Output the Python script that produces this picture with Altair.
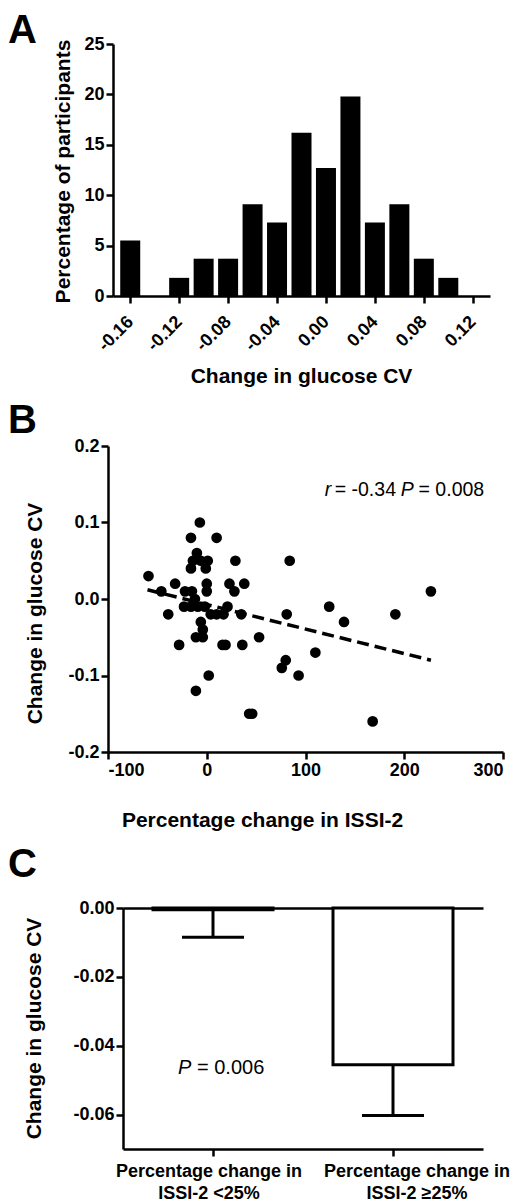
import pandas as pd
import altair as alt

FONT = "Arial"

# A: distribution of change in glucose CV (bin centres, % of participants)
cv_bins = [-0.16, -0.14, -0.12, -0.10, -0.08, -0.06, -0.04, -0.02, 0.00, 0.02, 0.04, 0.06, 0.08, 0.10]
pct_participants = [5.5, 0, 1.8, 3.7, 3.7, 9.1, 7.3, 16.2, 12.7, 19.8, 7.3, 9.1, 3.7, 1.8]

# B: percentage change in ISSI-2 vs change in glucose CV
issi_change = [-59, -46, -39, -32, -28, -22, -15, -23, -16, -9, -2, -16, -7, 10, -10, -14,
               -16, -6, -1, 1, 29, 0, 0, 23, 28, 38, 21, 4, 10, 17, 35, -6, -4, -11, -4,
               19, 16, 36, 53, 2, -11, 43, 46, 84, 81, 80, 76, 93, 110, 124, 139, 168,
               191, 227, -12]
cv_change = [0.03, 0.01, -0.02, 0.02, -0.06, 0.01, 0.01, -0.01, -0.01, -0.01, -0.01, 0.08, 0.10, 0.08, 0.06, 0.05,
             0.04, 0.05, 0.04, 0.05, 0.05, 0.02, 0.01, 0.02, 0.01, 0.02, -0.01, -0.02, -0.02, -0.02, -0.02, -0.03, -0.04, -0.05, -0.05,
             -0.06, -0.06, -0.06, -0.05, -0.10, -0.12, -0.15, -0.15, 0.05, -0.02, -0.08, -0.09, -0.10, -0.07, -0.01, -0.03, -0.16,
             -0.02, 0.01, 0.00]
fit_x = [-60, 227]
fit_y = [0.012, -0.080]

# C: mean change in glucose CV by ISSI-2 group, with lower SEM
groups = ["Percentage change in|ISSI-2 <25%", "Percentage change in|ISSI-2 \u226525%"]
group_mean = [-0.0005, -0.0455]
group_low = [-0.0085, -0.0603]


def ax(**kw):
    # GraphPad-like axis: thick black lines, bold labels, no grid
    base = dict(domainColor="black", domainWidth=2.5, tickColor="black", tickWidth=2.5, tickSize=7,
                labelColor="black", labelFont=FONT, labelFontWeight="bold", labelFontSize=18,
                labelPadding=2, labelLimit=400, titleColor="black", titleFont=FONT,
                titleFontWeight="bold", titleFontSize=21, grid=False)
    base.update(kw)
    return alt.Axis(**base)


def letter(txt, dy):
    return alt.TitleParams(txt, anchor="start", frame="group", dx=-100, dy=dy, offset=0, fontSize=40,
                           fontWeight="bold", font=FONT, color="black", baseline="bottom")


minus_fix = "replace(format(datum.value, '{}'), '\u2212', '-')"

# ---- panel A  (plot shifted 5px right of the shared left edge)
hist = pd.DataFrame({"bin": cv_bins, "pct": pct_participants})
panel_a = alt.Chart(hist).mark_bar(color="black", size=20).encode(
    x=alt.X("bin:Q", scale=alt.Scale(domain=[-0.17, 0.13], nice=False, zero=False, range=[5, 382]),
            axis=ax(values=[-0.16, -0.12, -0.08, -0.04, 0.0, 0.04, 0.08, 0.12],
                    labelExpr=minus_fix.format(".2f"), labelAngle=-45, labelAlign="right",
                    labelBaseline="middle", labelPadding=16, labelFontSize=18,
                    title="Change in glucose CV", titleX=193, titleY=69)),
    y=alt.Y("pct:Q", scale=alt.Scale(domain=[0, 25], nice=False),
            axis=ax(values=[0, 5, 10, 15, 20, 25], offset=-5, title="Percentage of participants",
                    titleX=-40, titleY=127))
).properties(width=382, height=252, title=letter("A", 56))

# ---- panel B
pts = pd.DataFrame({"issi": issi_change, "cv": cv_change})
fit = pd.DataFrame({"issi": fit_x, "cv": fit_y})
xb = alt.Scale(domain=[-100, 300], nice=False)
yb = alt.Scale(domain=[-0.2, 0.2], nice=False)

scatter = alt.Chart(pts).mark_circle(color="black", opacity=1, size=115).encode(
    x=alt.X("issi:Q", scale=xb,
            axis=ax(values=[-100, 0, 100, 200, 300], labelExpr=minus_fix.format("d"),
                    title="Percentage change in ISSI-2", titleX=154, titleY=57)),
    y=alt.Y("cv:Q", scale=yb,
            axis=ax(values=[-0.2, -0.1, 0.0, 0.1, 0.2], labelExpr=minus_fix.format(".1f"),
                    title="Change in glucose CV", titleX=-63, titleY=167))
)
trend = alt.Chart(fit).mark_line(color="black", strokeWidth=3.5, strokeDash=[12, 6]).encode(
    x=alt.X("issi:Q", scale=xb), y=alt.Y("cv:Q", scale=yb)
)

# "r = -0.34 P = 0.008", italic letters split out
note_b = pd.DataFrame({
    "x": [119.5, 129.6, 196.5, 214.5],
    "y": [0.143, 0.143, 0.143, 0.143],
    "txt": ["r", "= -0.34", "P", "= 0.008"],
    "style": ["italic", "normal", "italic", "normal"],
})
note_b_it = alt.Chart(note_b).transform_filter("datum.style == 'italic'").mark_text(
    font=FONT, fontSize=19.5, fontStyle="italic", align="left", baseline="middle", color="black"
).encode(x=alt.X("x:Q", scale=xb), y=alt.Y("y:Q", scale=yb), text="txt:N")
note_b_rm = alt.Chart(note_b).transform_filter("datum.style == 'normal'").mark_text(
    font=FONT, fontSize=19.5, align="left", baseline="middle", color="black"
).encode(x=alt.X("x:Q", scale=xb), y=alt.Y("y:Q", scale=yb), text="txt:N")

panel_b = alt.layer(scatter, trend, note_b_it, note_b_rm).properties(
    width=395, height=306, title=letter("B", 44))

# ---- panel C  (plot shifted 15px right of the shared left edge)
bars = pd.DataFrame({"grp": groups, "mean": group_mean, "low": group_low})
xsc = alt.Scale(paddingInner=0, paddingOuter=0, range=[15, 375])
yc = alt.Scale(domain=[-0.07, 0], nice=False)

bar_c = alt.Chart(bars).mark_bar(fill="white", stroke="black", strokeWidth=3, size=120).encode(
    x=alt.X("grp:N", sort=groups, scale=xsc,
            axis=ax(labelExpr="split(datum.label, '|')", labelAngle=0, labelAlign="center",
                    labelBaseline="top", labelLineHeight=22, labelPadding=6, title=None,
                    labelOffset={"condition": {"test": "indexof(datum.value, '\u2265') >= 0", "value": 24},
                                 "value": -4})),
    y=alt.Y("mean:Q", scale=yc,
            axis=ax(values=[0, -0.02, -0.04, -0.06], labelExpr=minus_fix.format(".2f"), offset=-15,
                    title="Change in glucose CV", titleX=-79, titleY=120))
)
# zero line drawn as a bare top axis over the same band range
zero_c = alt.Chart(bars).mark_tick(opacity=0).encode(
    x=alt.X("grp:N", sort=groups, scale=xsc,
            axis=alt.Axis(orient="top", domainColor="black", domainWidth=2.5, ticks=False,
                          labels=False, title=None, grid=False)),
    y=alt.Y("mean:Q", scale=yc)
)
stem_c = alt.Chart(bars).mark_rule(color="black", strokeWidth=3).encode(
    x=alt.X("grp:N", sort=groups, axis=None), y=alt.Y("mean:Q", scale=yc), y2="low:Q")
cap_c = alt.Chart(bars).mark_tick(color="black", opacity=1, thickness=3, size=62).encode(
    x=alt.X("grp:N", sort=groups, axis=None), y=alt.Y("low:Q", scale=yc))

note_c = pd.DataFrame({"grp": [groups[0], groups[0]], "y": [-0.0465, -0.0465],
                       "txt": ["P", "= 0.006"], "style": ["italic", "normal"]})
note_c_it = alt.Chart(note_c).transform_filter("datum.style == 'italic'").mark_text(
    font=FONT, fontSize=20, fontStyle="italic", align="left", baseline="middle", color="black", dx=-35
).encode(x=alt.X("grp:N", sort=groups, axis=None), y=alt.Y("y:Q", scale=yc), text="txt:N")
note_c_rm = alt.Chart(note_c).transform_filter("datum.style == 'normal'").mark_text(
    font=FONT, fontSize=20, align="left", baseline="middle", color="black", dx=-16
).encode(x=alt.X("grp:N", sort=groups, axis=None), y=alt.Y("y:Q", scale=yc), text="txt:N")

panel_c = alt.layer(bar_c, zero_c, stem_c, cap_c, note_c_it, note_c_rm).resolve_axis(
    x="independent"
).properties(width=375, height=241, title=letter("C", 26))

chart = alt.concat(panel_a, panel_b, panel_c, columns=1, spacing=15).configure_view(
    stroke=None
).properties(padding={"top": 3, "left": 0, "right": 0, "bottom": 0}, background="white")

chart.save("out.html", embed_options={"renderer": "svg", "actions": False})
